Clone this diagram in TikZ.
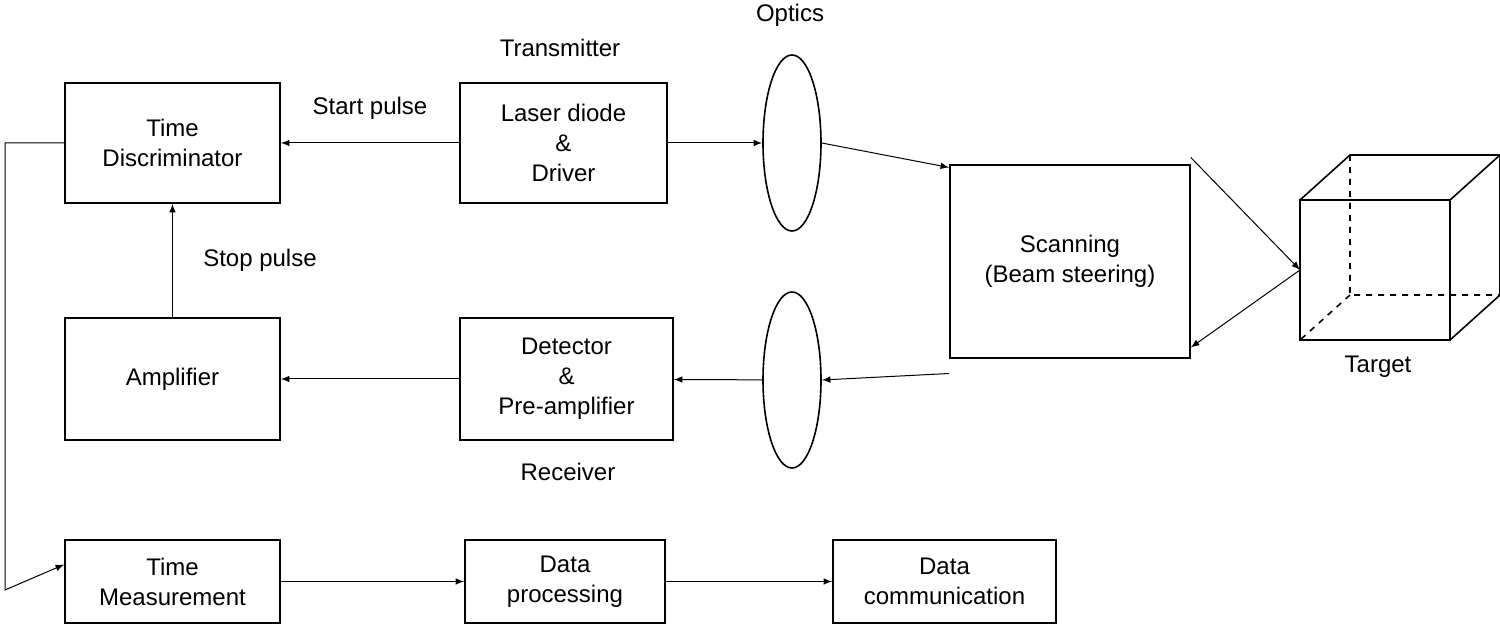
\documentclass[tikz,border=0pt]{standalone}
\usepackage{fontspec}
\setmainfont{Liberation Sans}
\usetikzlibrary{shapes.geometric}
\begin{document}
\begin{tikzpicture}[x=0.5pt,y=0.5pt,yscale=-1,xscale=1,
    font=\fontsize{12}{15}\selectfont,
    box/.style={draw,line width=0.8pt,align=center},
    lens/.style={draw,line width=0.8pt,ellipse,minimum width=29pt,minimum height=88pt,inner sep=0pt},
    arr/.style={-latex,line width=0.5pt}]
    \useasboundingbox (0,0) rectangle (1500,640);

    %Blocks
    \node[box,minimum width=107.5pt,minimum height=60pt] (disc) at (172.5,143) {Time\\Discriminator};
    \node[box,minimum width=103.5pt,minimum height=60pt] (laser) at (563.5,143) {Laser diode\\\&\\Driver};
    \node[box,minimum width=107.5pt,minimum height=61pt] (amp) at (172.5,379) {Amplifier};
    \node[box,minimum width=106.5pt,minimum height=61pt] (det) at (566.5,379) {Detector\\\&\\Pre-amplifier};
    \node[box,minimum width=120pt,minimum height=96.5pt] (scan) at (1070,261.5) {Scanning\\(Beam steering)};
    \node[box,minimum width=107.5pt,minimum height=41.5pt] (tmeas) at (172.5,581.5) {Time\\Measurement};
    \node[box,minimum width=100pt,minimum height=41.5pt] (proc) at (565,581.5) {Data\\processing};
    \node[box,minimum width=111.5pt,minimum height=41.5pt] (comm) at (944.5,581.5) {Data\\communication};

    %Lenses
    \node[lens] (lensT) at (792,143) {};
    \node[lens] (lensR) at (792,380) {};

    %Target cube
    \draw[line width=0.8pt] (1300,200) rectangle (1450,340);
    \draw[line width=0.8pt] (1300,200) -- (1350,155) -- (1500,155) -- (1500,295) -- (1450,340)
        (1450,200) -- (1500,155);
    \draw[line width=0.8pt,dashed] (1350,155) -- (1350,295) -- (1500,295) (1350,295) -- (1300,340);
    \coordinate (tgt) at (1300,270);

    %Labels
    \node (tx) at (560,48) {Transmitter};
    \node (rx) at (568,472) {Receiver};
    \node (opt) at (790,15) {Optics};
    \node (tlab) at (1378,367) {Target};
    \node (start) at (370,108) {Start pulse};
    \node (stop) at (260,260) {Stop pulse};

    %Connectors
    \draw[arr] (laser) -- (disc);
    \draw[arr] (laser) -- (lensT);
    \draw[arr] (lensT.east) -- ([yshift=-47]scan.west);
    \draw[arr] ([yshift=-52]scan.east) -- (tgt);
    \draw[arr] (tgt) -- ([yshift=43]scan.east);
    \draw[arr] ([yshift=56]scan.west) -- (lensR.east);
    \draw[arr] (lensR) -- (det);
    \draw[arr] (det) -- (amp);
    \draw[arr] (amp) -- (disc);
    \draw[arr] (disc.west) -- (5,143) -- (5,590) -- ([yshift=-8.5]tmeas.west);
    \draw[arr] (tmeas) -- (proc);
    \draw[arr] (proc) -- (comm);
\end{tikzpicture}
\end{document}
